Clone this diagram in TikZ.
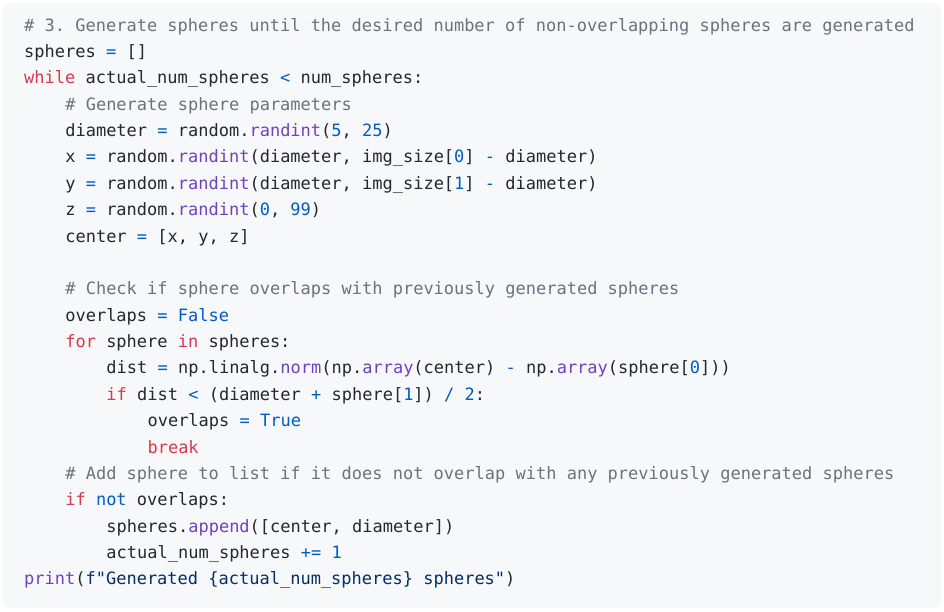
\documentclass[tikz,border=0pt]{standalone}
\usepackage{fontspec}
\setmonofont{DejaVu Sans Mono}
\definecolor{bgc}{HTML}{F6F8FA}
\definecolor{txc}{HTML}{24292E}
\definecolor{cmc}{HTML}{6A737D}
\definecolor{kwc}{HTML}{D73A49}
\definecolor{fnc}{HTML}{6F42C1}
\definecolor{nmc}{HTML}{005CC5}
\definecolor{stc}{HTML}{032F62}
\newcommand{\Cm}[1]{\textcolor{cmc}{#1}}
\newcommand{\Kw}[1]{\textcolor{kwc}{#1}}
\newcommand{\Fn}[1]{\textcolor{fnc}{#1}}
\newcommand{\Nm}[1]{\textcolor{nmc}{#1}}
\newcommand{\St}[1]{\textcolor{stc}{#1}}
\newcommand{\codeln}[4]{\node[codeline] (#1) at ({24+#2*10.28},{31+#3*26.38}) {#4};}
\begin{document}
\begin{tikzpicture}[x=1pt,y=-1pt,
  codeline/.style={anchor=base west,inner sep=0pt,font=\ttfamily\fontsize{17}{20}\selectfont,text=txc}]
\useasboundingbox (0,0) rectangle (944,611);
\fill[bgc,rounded corners=6pt] (3,3) rectangle (941,608);
\codeln{l0}{0}{0}{\Cm{\# 3. Generate spheres until the desired number of non-overlapping spheres are generated}}
\codeln{l1}{0}{1}{spheres \Nm{=} []}
\codeln{l2}{0}{2}{\Kw{while} actual\_num\_spheres \Nm{<} num\_spheres:}
\codeln{l3}{4}{3}{\Cm{\# Generate sphere parameters}}
\codeln{l4}{4}{4}{diameter \Nm{=} random.\Fn{randint}(\Nm{5}, \Nm{25})}
\codeln{l5}{4}{5}{x \Nm{=} random.\Fn{randint}(diameter, img\_size[\Nm{0}] \Nm{-} diameter)}
\codeln{l6}{4}{6}{y \Nm{=} random.\Fn{randint}(diameter, img\_size[\Nm{1}] \Nm{-} diameter)}
\codeln{l7}{4}{7}{z \Nm{=} random.\Fn{randint}(\Nm{0}, \Nm{99})}
\codeln{l8}{4}{8}{center \Nm{=} [x, y, z]}
\codeln{l10}{4}{10}{\Cm{\# Check if sphere overlaps with previously generated spheres}}
\codeln{l11}{4}{11}{overlaps \Nm{=} \Nm{False}}
\codeln{l12}{4}{12}{\Kw{for} sphere \Kw{in} spheres:}
\codeln{l13}{8}{13}{dist \Nm{=} np.linalg.\Fn{norm}(np.\Fn{array}(center) \Nm{-} np.\Fn{array}(sphere[\Nm{0}]))}
\codeln{l14}{8}{14}{\Kw{if} dist \Nm{<} (diameter \Nm{+} sphere[\Nm{1}]) \Nm{/} \Nm{2}:}
\codeln{l15}{12}{15}{overlaps \Nm{=} \Nm{True}}
\codeln{l16}{12}{16}{\Kw{break}}
\codeln{l17}{4}{17}{\Cm{\# Add sphere to list if it does not overlap with any previously generated spheres}}
\codeln{l18}{4}{18}{\Kw{if} \Nm{not} overlaps:}
\codeln{l19}{8}{19}{spheres.\Fn{append}([center, diameter])}
\codeln{l20}{8}{20}{actual\_num\_spheres \Nm{+=} \Nm{1}}
\codeln{l21}{0}{21}{\Fn{print}(\St{f"Generated \{actual\_num\_spheres\} spheres"})}
\end{tikzpicture}
\end{document}
